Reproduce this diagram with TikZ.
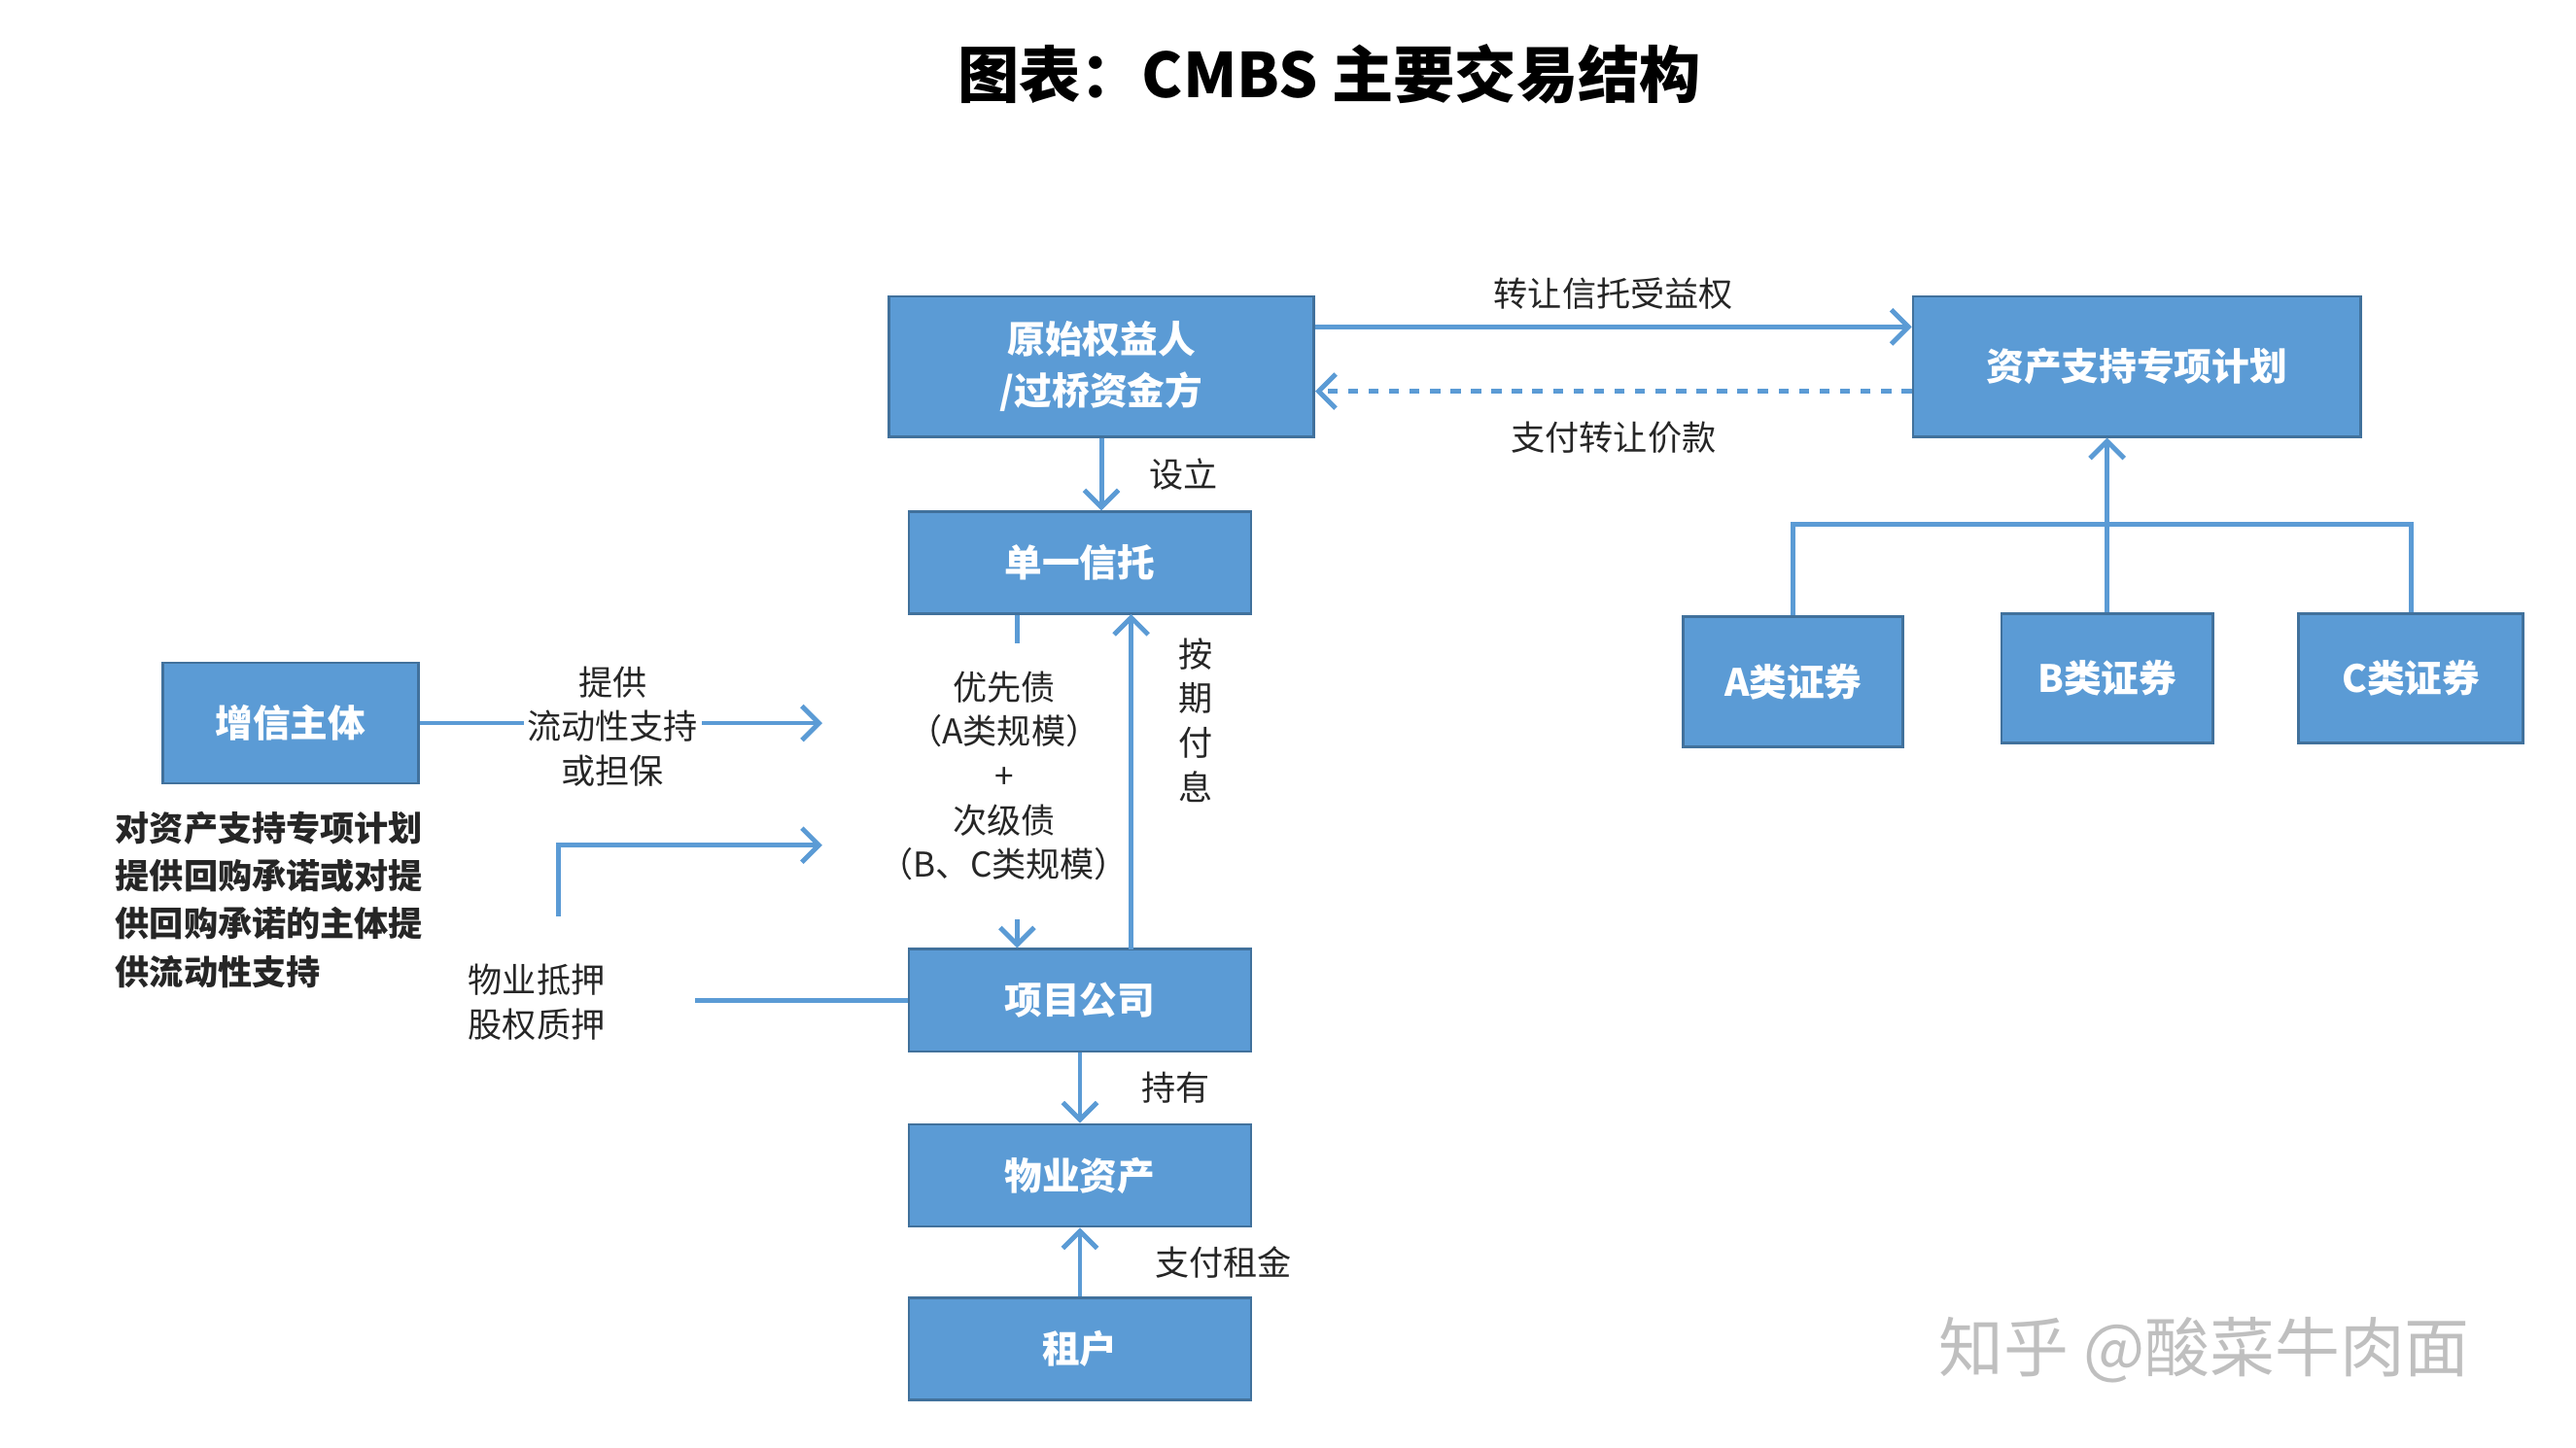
\documentclass[tikz,border=0pt]{standalone}
\usepackage{fontspec}
\setmainfont{Liberation Serif}
\newfontfamily\cjk{Noto Sans CJK SC}
\usetikzlibrary{arrows.meta, positioning}
\definecolor{boxblue}{HTML}{5B9BD5}
\definecolor{boxedge}{HTML}{41719C}
\begin{document}
\begin{tikzpicture}[
    x=0.01699cm, y=-0.01699cm,
    box/.style={rectangle, minimum height=1.05cm, text centered, draw=boxedge, line width=0.8pt,
                fill=boxblue, text=white, align=center, font=\cjk\bfseries\fontsize{11}{15}\selectfont},
    arrow/.style={-{Straight Barb[length=5pt]}, draw=boxblue, line width=1.4pt},
    line/.style={draw=boxblue, line width=1.4pt},
    labelstyle/.style={font=\cjk\fontsize{10}{13}\selectfont, text=black!85, align=center}
]
\useasboundingbox (0,0) rectangle (1560,877);

% Title
\node[font=\cjk\bfseries\fontsize{18}{20}\selectfont] (title) at (805,45) {图表：CMBS 主要交易结构};

% ==================== BOXES ====================
\node[box, minimum width=4.37cm, minimum height=1.44cm] (originator) at (667,222) {原始权益人\\/过桥资金方};
\node[box, minimum width=4.6cm, minimum height=1.44cm] (plan) at (1294,222) {资产支持专项计划};
\node[box, minimum width=3.52cm] (trust) at (654,341) {单一信托};
\node[box, minimum width=2.63cm, minimum height=1.24cm] (enhancer) at (176,438) {增信主体};
\node[box, minimum width=2.26cm, minimum height=1.34cm] (sec-a) at (1086,413) {A类证券};
\node[box, minimum width=2.17cm, minimum height=1.33cm] (sec-b) at (1276,411) {B类证券};
\node[box, minimum width=2.31cm, minimum height=1.33cm] (sec-c) at (1460,411) {C类证券};
\node[box, minimum width=3.52cm] (company) at (654,606) {项目公司};
\node[box, minimum width=3.52cm] (property) at (654,712) {物业资产};
\node[box, minimum width=3.52cm] (tenant) at (654,817) {租户};

% ==================== TEXTS ====================
\node[labelstyle] (debt) at (608,470) {优先债\\（A类规模）\\+\\次级债\\（B、C类规模）};
\node[labelstyle, align=left, font=\cjk\bfseries\fontsize{10}{14}\selectfont] (buyback) at (163,545)
    {对资产支持专项计划\\提供回购承诺或对提\\供回购承诺的主体提\\供流动性支持};
\node[labelstyle] (pledge) at (325,607) {物业抵押\\股权质押};
\node[labelstyle, font=\cjk\fontsize{19}{20}\selectfont, text=black!25] (mark) at (1335,818) {知乎 @酸菜牛肉面};

\coordinate (debt-top) at (616,390);
\coordinate (debt-bot) at (616,557);
\coordinate (support-end) at (498,438);
\coordinate (buyback-start) at (338,555);
\coordinate (buyback-end) at (498,512);
\coordinate (pledge-start) at (421,606);

% ==================== ARROWS ====================
\draw[arrow] (originator.east |- 0,198) -- node[labelstyle, above=1pt] {转让信托受益权} (plan.west |- 0,198);
\draw[arrow, dashed] (plan.west |- 0,237) -- node[labelstyle, below=5pt] {支付转让价款} (originator.east |- 0,237);
\draw[arrow] (originator.south) -- node[labelstyle, right=10pt] {设立} (originator.south |- trust.north);

% Securities to plan
\draw[line] (sec-a.north) -- ++(0,-55) -| (sec-c.north);
\draw[arrow] (sec-b.north) -- (sec-b.north |- plan.south);

% Trust and company
\draw[line] (debt-top |- trust.south) -- (debt-top);
\draw[arrow] (debt-bot) -- (debt-bot |- company.north);
\draw[arrow] (685,575) -- node[labelstyle, right=10pt, yshift=18pt] {按\\期\\付\\息} (685,372);

% Enhancer
\draw[arrow] (enhancer.east) -- (enhancer.east -| support-end);
\node[labelstyle, fill=white, inner sep=1pt] (support) at (371,440) {提供\\流动性支持\\或担保};
\draw[arrow] (buyback-start) |- (buyback-end);
\draw[line] (pledge-start) -- (company.west);

% Property
\draw[arrow] (company.south) -- node[labelstyle, right=14pt] {持有} (property.north);
\draw[arrow] (tenant.north) -- node[labelstyle, right=18pt] {支付租金} (property.south);

\end{tikzpicture}
\end{document}
